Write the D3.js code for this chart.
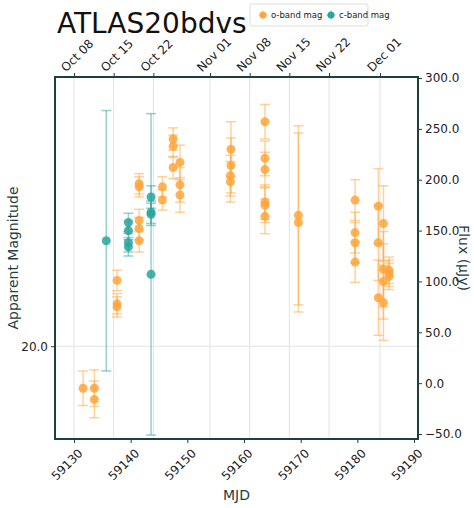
<!DOCTYPE html>
<html><head><meta charset="utf-8">
<script src="https://cdn.jsdelivr.net/npm/d3@7"></script>
<style>body{margin:0;background:#fff}text{font-family:"DejaVu Sans",sans-serif}</style>
</head><body><svg id="chart"></svg>
<script>
// o-band (orange) observations: MJD, flux (uJy), error
const oMjd  = [59131.6,59133.6,59133.6,59137.6,59137.6,59137.6,59141.5,59141.5,59141.5,59141.5,59141.5,59145.6,59145.6,59147.5,59147.5,59147.5,59148.7,59148.7,59148.7,59157.7,59157.7,59157.6,59157.6,59163.7,59163.7,59163.7,59163.7,59163.7,59163.7,59169.6,59169.6,59179.6,59179.6,59179.6,59179.6,59183.7,59183.7,59183.7,59184.6,59184.6,59184.6,59184.6,59185.6,59185.6,59185.6];
const oFlux = [-5,-5,-16,101,78,75,196,193,160,152,140,193,180,240,233,212,217,195,185,230,214,204,198,257,221,210,178,175,164,165,158,180,148,138,119,174,138,84,157,112,100,79,111,105,108];
const oErr  = [17,18,18,10,10,10,10,10,11,11,11,10,10,11,11,11,17,17,17,27,27,20,20,17,17,17,17,17,17,88,88,20,20,20,20,37,37,37,37,37,37,37,13,13,13];
// c-band (cyan) observations
const cMjd  = [59135.7,59139.6,59139.6,59139.6,59139.6,59143.6,59143.6,59143.6,59143.6];
const cFlux = [140,158,150,138,134,183,168,166,107];
const cErr  = [128,9,9,9,9,11,11,11,158];
const topDates = [['Oct 08',59130],['Oct 15',59137],['Oct 22',59144],['Nov 01',59154],['Nov 08',59161],['Nov 15',59168],['Nov 22',59175],['Dec 01',59184]];
const xTicks = [59130,59140,59150,59160,59170,59180,59190];
const fluxTicks = [300,250,200,150,100,50,0,-50];
const magTicks = [20.0];

const W = 474, H = 508;
const L = 55, R = 418, T = 77, B = 439;
const AX = '#1f3f3f', ORANGE = '#ffa53a', TEAL = '#2aa59e';
const svg = d3.select('#chart').attr('width', W).attr('height', H);

const x = d3.scaleLinear().domain([59126.65, 59190.7]).range([L, R]);
const y = d3.scaleLinear().domain([-54.9, 301]).range([B, T]);
const magToFlux = m => Math.pow(10, (23.9 - m) / 2.5);

// grid
svg.append('g').selectAll('line').data(topDates).join('line')
    .attr('x1', d => x(d[1])).attr('x2', d => x(d[1])).attr('y1', T).attr('y2', B)
    .attr('stroke', '#e3e3e3').attr('stroke-width', 1);
svg.append('g').selectAll('line').data(magTicks).join('line')
    .attr('x1', L).attr('x2', R).attr('y1', d => y(magToFlux(d))).attr('y2', d => y(magToFlux(d)))
    .attr('stroke', '#e3e3e3').attr('stroke-width', 1);

// axes
const styleAxis = g => {
    g.selectAll('.domain').remove();
    g.selectAll('line').attr('stroke', AX);
    g.selectAll('text').attr('fill', '#222').attr('font-size', '12px');
};
svg.append('g').attr('transform', `translate(0,${B})`)
    .call(d3.axisBottom(x).tickValues(xTicks).tickFormat(d3.format('d')).tickSize(4))
    .call(styleAxis)
    .selectAll('text').attr('text-anchor', 'end').attr('transform', 'translate(-2,4) rotate(-45)');
svg.append('g').attr('transform', `translate(0,${T})`)
    .call(d3.axisTop(x).tickValues(topDates.map(d => d[1])).tickFormat((d, i) => topDates[i][0]).tickSize(4))
    .call(styleAxis)
    .selectAll('text').attr('text-anchor', 'start').attr('transform', 'translate(-6,-2) rotate(-45)').attr('dy', '0.3em');
svg.append('g').attr('transform', `translate(${R},0)`)
    .call(d3.axisRight(y).tickValues(fluxTicks).tickFormat(d3.format('.1f')).tickSize(4))
    .call(styleAxis);
svg.append('g').attr('transform', `translate(${L},0)`)
    .call(d3.axisLeft(y).tickValues(magTicks.map(magToFlux)).tickFormat(() => '20.0').tickSize(4))
    .call(styleAxis);
svg.append('rect').attr('x', L).attr('y', T).attr('width', R - L).attr('height', B - T)
    .attr('fill', 'none').attr('stroke', AX).attr('stroke-width', 2);

// error bars + points
function series(mjd, flux, err, color) {
    const g = svg.append('g');
    const idx = d3.range(mjd.length);
    const eg = g.append('g').attr('stroke', color).attr('stroke-opacity', 0.5).attr('stroke-width', 1.5);
    eg.selectAll('.v').data(idx).join('line')
        .attr('x1', i => x(mjd[i])).attr('x2', i => x(mjd[i]))
        .attr('y1', i => y(flux[i] - err[i])).attr('y2', i => y(flux[i] + err[i]));
    [-1, 1].forEach(s => eg.selectAll('.c' + s).data(idx).join('line')
        .attr('x1', i => x(mjd[i]) - 5).attr('x2', i => x(mjd[i]) + 5)
        .attr('y1', i => y(flux[i] + s * err[i])).attr('y2', i => y(flux[i] + s * err[i])));
    g.selectAll('circle').data(idx).join('circle')
        .attr('cx', i => x(mjd[i])).attr('cy', i => y(flux[i])).attr('r', 4.5)
        .attr('fill', color).attr('fill-opacity', 0.85);
}
series(oMjd, oFlux, oErr, ORANGE);
series(cMjd, cFlux, cErr, TEAL);

// labels
svg.append('text').attr('x', 57).attr('y', 33).attr('font-size', '28px').attr('fill', '#111').text('ATLAS20bdvs');
svg.append('text').attr('x', (L + R) / 2).attr('y', 500).attr('text-anchor', 'middle')
    .attr('font-size', '14px').attr('fill', AX).text('MJD');
svg.append('text').attr('transform', `translate(13,${(T + B) / 2}) rotate(-90)`).attr('text-anchor', 'middle')
    .attr('dy', '0.35em').attr('font-size', '14px').attr('fill', AX).text('Apparent Magnitude');
svg.append('text').attr('transform', `translate(464,${(T + B) / 2}) rotate(90)`).attr('text-anchor', 'middle')
    .attr('dy', '0.35em').attr('font-size', '14px').attr('fill', AX).text('Flux (μJy)');

// legend
const leg = svg.append('g').attr('transform', 'translate(250,4)');
leg.append('rect').attr('width', 118).attr('height', 22).attr('fill', '#fff').attr('stroke', '#ddd').attr('rx', 2);
[['o-band mag', ORANGE, 8], ['c-band mag', TEAL, 76]].forEach(([t, c, lx]) => {
    leg.append('line').attr('x1', lx).attr('x2', lx + 10).attr('y1', 11).attr('y2', 11).attr('stroke', c).attr('stroke-opacity', 0.5);
    leg.append('line').attr('x1', lx + 5).attr('x2', lx + 5).attr('y1', 6).attr('y2', 16).attr('stroke', c).attr('stroke-opacity', 0.5);
    leg.append('circle').attr('cx', lx + 5).attr('cy', 11).attr('r', 3.5).attr('fill', c);
    leg.append('text').attr('x', lx + 13).attr('y', 11).attr('dy', '0.35em').attr('font-size', '8.5px').attr('fill', '#222').text(t);
});
</script></body></html>
